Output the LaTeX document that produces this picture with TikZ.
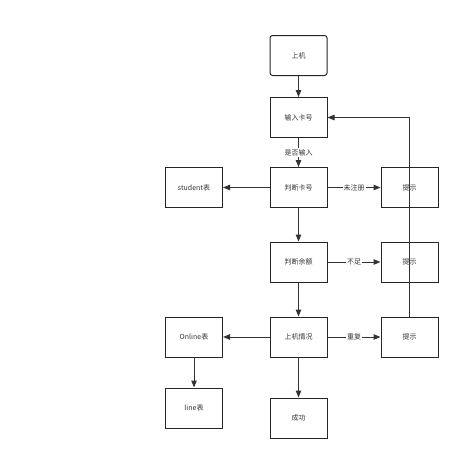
\documentclass[tikz,border=0pt]{standalone}
\usepackage{fontspec}
\setmainfont{Noto Sans CJK SC}
\usetikzlibrary{arrows.meta}
\begin{document}
\begin{tikzpicture}[x=1pt,y=-1pt,
  box/.style={draw=black!85,line width=1pt,minimum width=57pt,minimum height=40pt,inner sep=0pt,font=\fontsize{7}{8}\selectfont,text=black!80},
  rbox/.style={box,rounded corners=2.5pt},
  conn/.style={draw=black!80,line width=1pt,-{Triangle[length=7pt,width=5.5pt]}},
  lab/.style={fill=white,inner sep=1pt,font=\fontsize{7}{8}\selectfont,text=black!80}]
\useasboundingbox (0,0) rectangle (474,474);
\node[rbox] (start) at (298.5,55.5) {上机};
\node[box] (input) at (298.5,117.5) {输入卡号};
\node[box] (card) at (298.5,187.5) {判断卡号};
\node[box] (stu) at (194,187.5) {student表};
\node[box] (tip1) at (409.5,187.5) {提示};
\node[box] (bal) at (298.5,262) {判断余额};
\node[box] (tip2) at (409.5,262) {提示};
\node[box] (sit) at (298.5,337) {上机情况};
\node[box] (onl) at (194,337) {Online表};
\node[box] (tip3) at (409.5,337) {提示};
\node[box] (line) at (194,408) {line表};
\node[box] (ok) at (298.5,418) {成功};
\draw[conn] (start) -- (input);
\draw[conn] (input) -- node[lab] {是否输入} (card);
\draw[conn] (card) -- (stu);
\draw[conn] (card) -- node[lab] {未注册} (tip1);
\draw[conn] (card) -- (bal);
\draw[conn] (bal) -- node[lab] {不足} (tip2);
\draw[conn] (bal) -- (sit);
\draw[conn] (sit) -- node[lab] {重复} (tip3);
\draw[conn] (sit) -- (onl);
\draw[conn] (onl) -- (line);
\draw[conn] (sit) -- (ok);
\draw[conn] (tip3.north) |- (input.east);
\end{tikzpicture}
\end{document}
